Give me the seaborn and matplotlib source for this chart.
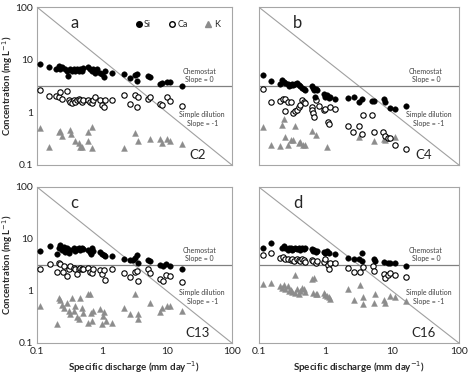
import numpy as np
import pandas as pd
import matplotlib
matplotlib.use("Agg")
import matplotlib.pyplot as plt
import seaborn as sns
from matplotlib.lines import Line2D

sns.set_theme(style="white")
plt.rcParams['font.family'] = ['Lato', 'DejaVu Sans']

# ---- panel a (C2) ----
a_si_q = [0.112, 0.151, 0.198, 0.216, 0.229, 0.242, 0.273, 0.29, 0.30, 0.325, 0.345, 0.367, 0.39, 0.41,
          0.44, 0.46, 0.49, 0.52, 0.62, 0.66, 0.70, 0.74, 0.79, 0.84, 0.94, 1.0, 1.06, 1.12, 1.43, 2.2,
          2.7, 3.2, 3.5, 3.5, 5.2, 5.5, 7.9, 8.4, 10, 11.3, 17]
a_si = [8.4, 7.3, 6.7, 7.5, 6.7, 7.3, 6.7, 6.2, 5.0, 6.7, 6.2, 6.7, 6.1, 6.7,
        6.2, 6.7, 6.2, 6.9, 7.3, 6.7, 6.2, 6.7, 5.7, 6.7, 5.7, 5.4, 4.7, 6.2, 5.6, 5.3,
        4.4, 5.1, 5.4, 3.9, 4.9, 4.6, 3.5, 3.6, 3.8, 3.8, 3.2]
a_ca_q = [0.112, 0.151, 0.198, 0.216, 0.229, 0.242, 0.29, 0.31, 0.325, 0.345, 0.367, 0.39, 0.41, 0.44,
          0.46, 0.49, 0.52, 0.62, 0.66, 0.70, 0.74, 0.79, 0.94, 1.0, 1.06, 1.12, 1.43, 2.2, 2.7,
          3.2, 3.5, 3.6, 5.2, 5.5, 7.9, 8.4, 10, 11.3, 17]
a_ca = [2.7, 2.05, 2.0, 1.95, 2.4, 1.8, 2.5, 1.75, 1.6, 1.5, 1.75, 1.6, 1.7, 1.8,
        1.7, 1.6, 1.7, 1.75, 1.6, 1.5, 1.7, 1.95, 1.7, 1.35, 1.28, 1.75, 1.7, 2.1, 1.43,
        2.15, 1.28, 1.95, 1.8, 1.95, 1.43, 1.35, 1.95, 1.65, 1.3]
a_k_q = [0.112, 0.151, 0.216, 0.229, 0.242, 0.325, 0.33, 0.39, 0.44, 0.46, 0.49, 0.6, 0.62, 0.70, 0.70,
         2.2, 3.2, 3.6, 5.5, 7.9, 8.4, 10, 11.3, 17]
a_k = [0.51, 0.22, 0.42, 0.45, 0.35, 0.46, 0.38, 0.28, 0.26, 0.22, 0.22, 0.42, 0.28, 0.53, 0.21,
       0.21, 0.40, 0.28, 0.31, 0.31, 0.26, 0.31, 0.29, 0.25]

# ---- panel b (C4) ----
b_si_q = [0.115, 0.155, 0.206, 0.224, 0.237, 0.25, 0.27, 0.28, 0.30, 0.316, 0.33, 0.35, 0.38, 0.40,
          0.42, 0.45, 0.47, 0.50, 0.62, 0.65, 0.67, 0.69, 0.71, 0.75, 0.94, 1.0, 1.05, 1.11, 1.17,
          1.41, 2.15, 2.66, 3.16, 3.54, 5.0, 5.3, 7.5, 7.9, 9.4, 11.2, 16.2]
b_si = [5.1, 3.9, 3.4, 4.1, 3.8, 3.6, 3.5, 3.1, 3.3, 3.5, 3.3, 3.5, 3.6, 3.3,
        3.1, 2.96, 2.8, 2.7, 3.1, 2.96, 2.6, 1.98, 2.8, 2.6, 2.2, 1.98, 2.1, 1.85, 1.98,
        1.76, 1.9, 1.98, 1.6, 1.76, 1.66, 1.66, 1.76, 1.6, 1.23, 1.15, 1.3]
b_ca_q = [0.115, 0.155, 0.21, 0.23, 0.25, 0.27, 0.30, 0.245, 0.33, 0.35, 0.37, 0.40, 0.42, 0.45,
          0.47, 0.50, 0.62, 0.63, 0.65, 0.67, 0.71, 0.79, 0.94, 1.0, 1.1, 1.11, 1.17, 1.41,
          2.15, 2.6, 3.16, 3.6, 3.5, 5.0, 5.3, 7.4, 7.9, 8.6, 9.4, 11.2, 16.2]
b_ca = [2.8, 1.6, 1.66, 1.8, 1.76, 1.6, 1.6, 1.04, 0.95, 1.05, 1.1, 1.25, 1.4, 1.7,
        1.6, 1.5, 1.25, 1.1, 0.95, 0.8, 1.7, 1.3, 1.1, 1.15, 0.66, 0.6, 1.25, 1.15,
        0.55, 0.42, 0.55, 0.88, 0.39, 0.88, 0.42, 0.42, 0.35, 0.32, 0.32, 0.24, 0.2]
b_k_q = [0.115, 0.155, 0.206, 0.237, 0.224, 0.25, 0.27, 0.30, 0.33, 0.35, 0.40, 0.42, 0.46, 0.49,
         0.62, 0.71, 1.05, 3.2, 5.3, 7.5, 7.9, 8.3, 10.9]
b_k = [0.52, 0.24, 0.23, 0.76, 0.58, 0.34, 0.24, 0.30, 0.30, 0.55, 0.26, 0.27, 0.24, 0.24,
       0.44, 0.37, 0.22, 0.34, 0.28, 0.31, 0.30, 0.33, 0.34]

# ---- panel c (C13) ----
c_si_q = [0.112, 0.157, 0.2, 0.216, 0.229, 0.24, 0.26, 0.27, 0.29, 0.31, 0.325, 0.367, 0.39, 0.41,
          0.44, 0.46, 0.49, 0.52, 0.62, 0.66, 0.68, 0.70, 0.74, 0.94, 1.0, 1.06, 1.12, 1.45, 2.2,
          2.7, 3.0, 3.2, 3.5, 3.6, 5.2, 5.5, 7.9, 8.6, 9.8, 11.3, 17]
c_si = [5.9, 7.3, 5.1, 6.6, 7.7, 6.1, 7.0, 5.6, 6.6, 5.4, 6.1, 6.6, 5.9, 6.3,
        6.6, 6.1, 6.6, 6.3, 6.1, 5.6, 5.2, 6.6, 5.9, 5.6, 5.2, 4.9, 4.7, 4.7, 4.2,
        3.9, 4.0, 4.4, 4.9, 3.4, 3.9, 3.8, 3.1, 2.96, 3.3, 2.96, 2.7]
c_ca_q = [0.112, 0.157, 0.2, 0.216, 0.23, 0.25, 0.26, 0.29, 0.31, 0.325, 0.367, 0.39, 0.42, 0.44,
          0.46, 0.49, 0.52, 0.62, 0.66, 0.70, 0.74, 0.94, 1.0, 1.06, 1.12, 1.45, 2.2, 2.7,
          3.2, 3.5, 3.6, 5.2, 5.5, 7.9, 8.6, 9.8, 11.3, 17]
c_ca = [2.6, 3.3, 2.3, 3.4, 3.3, 2.3, 2.96, 1.9, 2.7, 2.96, 2.8, 2.6, 2.1, 2.7,
        2.8, 2.6, 2.7, 2.8, 2.35, 2.2, 2.6, 2.5, 2.1, 2.5, 1.6, 2.6, 2.2, 1.85,
        2.35, 2.45, 1.55, 2.7, 2.2, 1.7, 1.55, 2.0, 1.9, 1.5]
c_k_q = [0.112, 0.2, 0.216, 0.23, 0.24, 0.26, 0.29, 0.31, 0.325, 0.345, 0.367, 0.39, 0.41, 0.44,
         0.46, 0.49, 0.51, 0.6, 0.62, 0.65, 0.68, 0.70, 0.74, 0.94, 1.0, 1.03, 1.09, 1.15, 1.45,
         2.2, 2.7, 3.2, 3.6, 3.6, 5.5, 7.9, 8.4, 10, 11.3, 17]
c_k = [0.52, 0.23, 0.72, 0.67, 0.54, 0.47, 0.58, 0.41, 0.36, 0.72, 0.41, 0.51, 0.32, 0.29,
       0.72, 0.47, 0.38, 0.89, 0.24, 0.89, 0.38, 0.26, 0.41, 0.45, 0.23, 0.33, 0.39, 0.26, 0.24,
       0.47, 0.36, 0.89, 0.36, 0.29, 0.58, 0.39, 0.47, 0.51, 0.51, 0.41]

# ---- panel d (C16) ----
d_si_q = [0.116, 0.155, 0.219, 0.24, 0.25, 0.27, 0.28, 0.30, 0.316, 0.33, 0.35, 0.38, 0.40, 0.42,
          0.45, 0.47, 0.50, 0.62, 0.65, 0.68, 0.71, 0.75, 0.94, 1.0, 1.05, 1.12, 1.41, 2.15, 2.66,
          3.16, 3.54, 3.54, 5.3, 5.6, 7.5, 8.6, 9.4, 11.2, 16.2]
d_si = [6.8, 8.5, 6.8, 7.3, 6.6, 6.1, 6.8, 6.6, 6.1, 6.3, 6.8, 6.3, 6.6, 6.1,
        6.6, 6.3, 6.8, 6.3, 5.9, 6.1, 5.6, 5.9, 5.6, 5.3, 5.9, 5.3, 5.1, 4.4, 4.2,
        4.1, 5.3, 3.8, 4.1, 3.8, 3.6, 3.5, 3.4, 3.4, 3.05]
d_ca_q = [0.116, 0.155, 0.21, 0.23, 0.25, 0.27, 0.30, 0.316, 0.34, 0.38, 0.40, 0.42, 0.45, 0.47,
          0.50, 0.62, 0.65, 0.71, 0.75, 0.94, 1.0, 1.1, 1.11, 1.17, 1.41, 2.2, 2.7, 3.3, 3.7,
          5.2, 5.3, 7.5, 7.9, 8.6, 9.4, 11.2, 16.2]
d_ca = [4.9, 5.3, 4.4, 4.6, 4.2, 4.1, 4.0, 4.2, 3.8, 4.2, 4.0, 3.8, 4.2, 4.0,
        3.6, 4.0, 3.8, 3.4, 3.8, 3.6, 4.2, 3.1, 2.6, 3.5, 3.5, 2.8, 2.3, 2.3, 2.9,
        3.05, 2.4, 2.1, 1.8, 2.0, 2.2, 2.0, 1.85]
d_k_q = [0.116, 0.155, 0.21, 0.224, 0.237, 0.25, 0.27, 0.28, 0.30, 0.316, 0.35, 0.35, 0.38, 0.40,
         0.42, 0.45, 0.47, 0.50, 0.62, 0.67, 0.65, 0.71, 0.75, 0.94, 1.0, 1.05, 1.11, 1.17, 2.2,
         2.7, 3.3, 3.7, 3.7, 5.3, 5.6, 7.5, 7.9, 9.4, 11.2, 16.2]
d_k = [1.36, 1.4, 1.26, 1.15, 1.29, 1.07, 1.22, 0.99, 1.03, 0.95, 2.0, 0.92, 1.07, 0.89,
       0.99, 1.15, 1.07, 0.95, 1.7, 1.74, 0.92, 0.87, 0.87, 0.92, 0.83, 0.79, 0.77, 0.71, 1.07,
       0.67, 1.29, 0.77, 0.55, 0.58, 0.87, 0.67, 0.58, 0.79, 0.77, 0.63]

panel_letters = ['a', 'b', 'c', 'd']
site_names = ['C2', 'C4', 'C13', 'C16']
chemostat_level = 3.16
dilution_q = [0.1, 100]
dilution_c = [100, 0.1]

panels = [
    (a_si_q, a_si, a_ca_q, a_ca, a_k_q, a_k),
    (b_si_q, b_si, b_ca_q, b_ca, b_k_q, b_k),
    (c_si_q, c_si, c_ca_q, c_ca, c_k_q, c_k),
    (d_si_q, d_si, d_ca_q, d_ca, d_k_q, d_k),
]

fig = plt.figure(figsize=(4.74, 3.74), dpi=100)
positions = [
    [0.078, 0.559, 0.411, 0.422],
    [0.546, 0.559, 0.422, 0.422],
    [0.078, 0.083, 0.411, 0.417],
    [0.546, 0.083, 0.422, 0.417],
]
gray_k = '#8c8c8c'
line_gray = '#808080'
note_gray = '#404040'

for i, (pos, data) in enumerate(zip(positions, panels)):
    ax = fig.add_axes(pos)
    si_q, si, ca_q, ca, k_q, k = data
    sns.scatterplot(x=k_q, y=k, ax=ax, marker='^', color=gray_k, edgecolor=gray_k,
                    s=18, linewidth=0.3, zorder=3)
    sns.scatterplot(x=ca_q, y=ca, ax=ax, marker='o', facecolor='white', edgecolor='black',
                    s=15, linewidth=0.8, zorder=4)
    sns.scatterplot(x=si_q, y=si, ax=ax, marker='o', color='black', edgecolor='black',
                    s=16, linewidth=0.3, zorder=5)
    ax.plot(dilution_q, dilution_c, color='#a0a0a0', lw=0.8, zorder=2)
    ax.axhline(chemostat_level, color=line_gray, lw=0.9, zorder=2)
    ax.set_xscale('log')
    ax.set_yscale('log')
    ax.set_xlim(0.1, 100)
    ax.set_ylim(0.1, 100)
    ax.set_xticks([0.1, 1, 10, 100])
    ax.set_yticks([0.1, 1, 10, 100])
    ax.minorticks_off()
    ax.tick_params(length=0, labelsize=7.5, pad=3, colors='#222222')
    for s in ax.spines.values():
        s.set_color('#a6a6a6')
        s.set_linewidth(0.8)
    if i % 2 == 0:
        ax.set_yticklabels(['0.1', '1', '10', '100'])
        ax.set_ylabel('Concentration (mg L$^{-1}$)', fontsize=6.8, fontweight='bold')
        ax.yaxis.set_label_coords(-0.112, 0.5)
    else:
        ax.set_yticklabels([])
        ax.set_ylabel('')
    if i >= 2:
        ax.set_xticklabels(['0.1', '1', '10', '100'])
        ax.set_xlabel('Specific discharge (mm day$^{-1}$)', fontsize=7, fontweight='bold', labelpad=2)
    else:
        ax.set_xticklabels([])
        ax.set_xlabel('')

    ax.text(0.38, 50, panel_letters[i], fontsize=12, ha='center', va='center')
    ax.text(30, 0.155, site_names[i], fontsize=9.5, ha='center', va='center')
    ax.text(32, 6.0, 'Chemostat', fontsize=5, ha='center', va='center', color=note_gray)
    ax.text(32, 4.2, 'Slope = 0', fontsize=5, ha='center', va='center', color=note_gray)
    ax.text(35, 0.92, 'Simple dilution', fontsize=5, ha='center', va='center', color=note_gray)
    ax.text(35, 0.62, 'Slope = -1', fontsize=5, ha='center', va='center', color=note_gray)

    if i == 0:
        handles = [
            Line2D([], [], marker='o', ls='', color='black', markersize=4),
            Line2D([], [], marker='o', ls='', markerfacecolor='white', markeredgecolor='black', markersize=4),
            Line2D([], [], marker='^', ls='', color=gray_k, markersize=4),
        ]
        ax.legend(handles, ['Si', 'Ca', 'K'], loc='upper right', bbox_to_anchor=(0.98, 0.97),
                  ncol=3, frameon=False, fontsize=6.5, handletextpad=0.1, columnspacing=1.8,
                  handlelength=1.0)

fig.savefig('out.png', dpi=100)
